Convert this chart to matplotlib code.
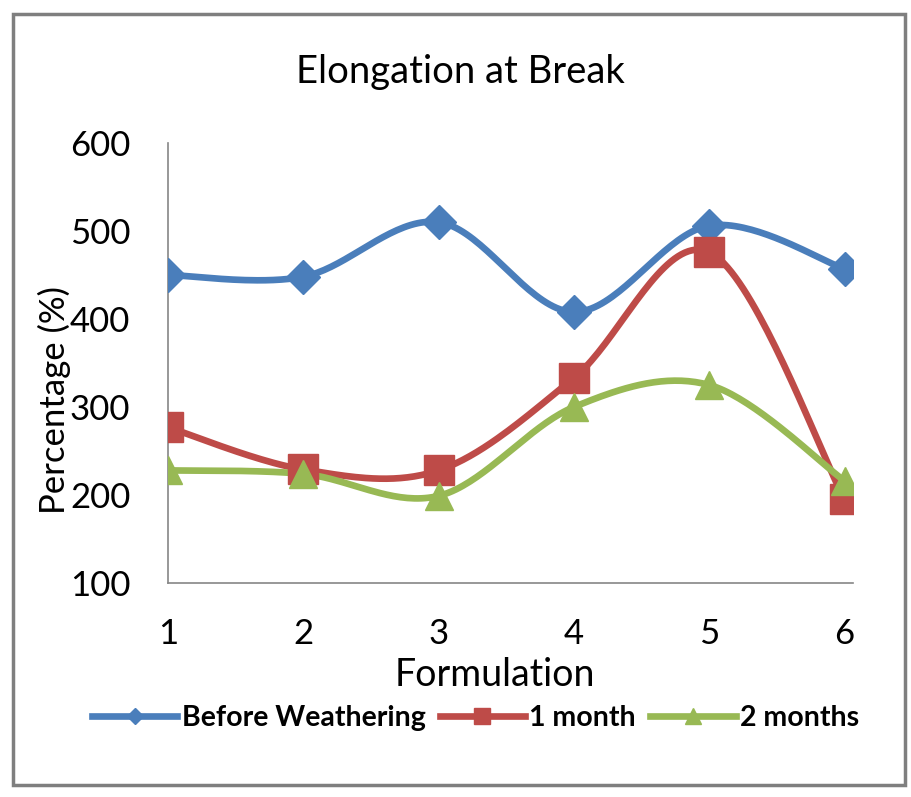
import matplotlib.pyplot as plt
import numpy as np
from matplotlib.patches import Rectangle

formulation = [1, 2, 3, 4, 5, 6]
before = [450, 448, 510, 408, 506, 457]
one_month = [277, 229, 228, 333, 476, 195]
two_months = [228, 224, 199, 300, 325, 216]

plt.rcParams['font.family'] = ['Lato', 'DejaVu Sans']


def smooth(x, y, n=40):
    # catmull-rom style curve like Excel's smoothed line
    x = np.asarray(x, float)
    y = np.asarray(y, float)
    px = np.concatenate([[x[0]], x, [x[-1]]])
    py = np.concatenate([[y[0]], y, [y[-1]]])
    xs, ys = [], []
    for i in range(1, len(px) - 2):
        t = np.linspace(0, 1, n)
        p0, p1, p2, p3 = (np.array([px[j], py[j]]) for j in range(i - 1, i + 3))
        c1 = p1 + (p2 - p0) / 6
        c2 = p2 - (p3 - p1) / 6
        pts = ((1 - t) ** 3)[:, None] * p1 + (3 * (1 - t) ** 2 * t)[:, None] * c1 \
            + (3 * (1 - t) * t ** 2)[:, None] * c2 + (t ** 3)[:, None] * p2
        xs.extend(pts[:, 0])
        ys.extend(pts[:, 1])
    return xs, ys


fig = plt.figure(figsize=(9.11, 7.97), dpi=100)
fig.patches.append(Rectangle((0.014, 0.015), 0.979, 0.968, transform=fig.transFigure,
                             fill=False, edgecolor='#7f7f7f', linewidth=2.5))
ax = fig.add_axes([0.1844, 0.2685, 0.7516, 0.5521])

series = [
    (before, '#4a7ebb', 'D', 'Before Weathering', 17, 8),
    (one_month, '#be4b48', 's', '1 month', 21, 12),
    (two_months, '#98b954', '^', '2 months', 20, 11),
]
for vals, col, mk, lab, ms, lms in series:
    sx, sy = smooth(formulation, vals)
    ax.plot(sx, sy, color=col, linewidth=4.8, solid_capstyle='round', zorder=2)
    ax.plot(formulation, vals, linestyle='none', marker=mk, markersize=ms,
            color=col, zorder=3)
    ax.plot([], [], color=col, linewidth=4.8, marker=mk, markersize=lms, label=lab)

ax.set_xlim(1, 6.06)
ax.set_ylim(100, 600)
ax.set_yticks([100, 200, 300, 400, 500, 600])
ax.set_xticks(formulation)
ax.tick_params(length=0, labelsize=25, colors='black')
ax.tick_params(axis='x', pad=25)
ax.tick_params(axis='y', pad=27)
for s in ['top', 'right']:
    ax.spines[s].set_visible(False)
for s in ['left', 'bottom']:
    ax.spines[s].set_color('#868686')
    ax.spines[s].set_linewidth(1.2)

fig.text(0.543, 0.153, 'Formulation', fontsize=27, ha='center', va='center')
fig.text(0.06, 0.498, 'Percentage (%)', fontsize=25, ha='center', va='center',
         rotation=90)
fig.text(0.505, 0.91, 'Elongation at Break', fontsize=27.5, ha='center', va='center')

fig.legend(loc='center', bbox_to_anchor=(0.522, 0.099), ncol=3, frameon=False,
           prop={'weight': 'bold', 'size': 20.5}, handlelength=3.0, columnspacing=0.5,
           handletextpad=0.15)

fig.savefig('out.png', dpi=100)
